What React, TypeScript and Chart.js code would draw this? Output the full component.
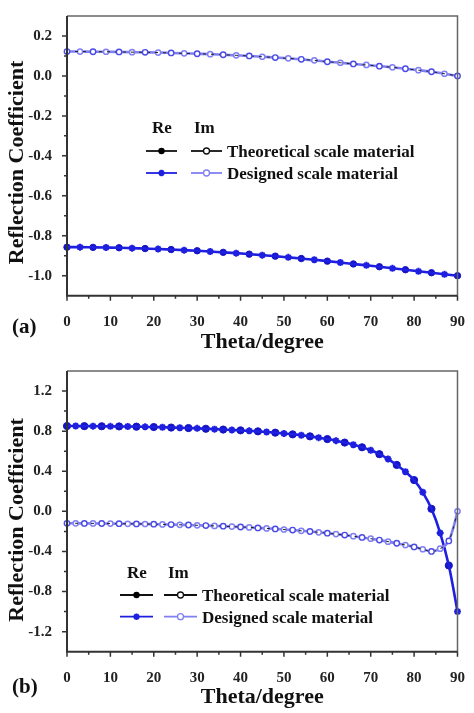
import React, { useEffect, useRef } from "react";
import { Chart, registerables } from "chart.js";

Chart.register(...registerables);

// ---------- data ----------
const anglesA = [0, 3, 6, 9, 12, 15, 18, 21, 24, 27, 30, 33, 36, 39, 42, 45, 48, 51, 54, 57, 60, 63, 66, 69, 72, 75, 78, 81, 84, 87, 90];
const reA = [-0.857, -0.857, -0.858, -0.859, -0.86, -0.862, -0.864, -0.866, -0.869, -0.872, -0.875, -0.879, -0.883, -0.887, -0.892, -0.897, -0.902, -0.908, -0.914, -0.92, -0.927, -0.934, -0.941, -0.948, -0.955, -0.963, -0.97, -0.978, -0.985, -0.993, -1.0];
const imA = [0.122, 0.122, 0.121, 0.121, 0.12, 0.119, 0.118, 0.117, 0.115, 0.113, 0.111, 0.109, 0.106, 0.103, 0.1, 0.096, 0.092, 0.088, 0.083, 0.078, 0.071, 0.066, 0.06, 0.055, 0.049, 0.043, 0.036, 0.029, 0.021, 0.011, 0.0];

const anglesB = [0, 2, 4, 6, 8, 10, 12, 14, 16, 18, 20, 22, 24, 26, 28, 30, 32, 34, 36, 38, 40, 42, 44, 46, 48, 50, 52, 54, 56, 58, 60, 62, 64, 66, 68, 70, 72, 74, 76, 78, 80, 82, 84, 86, 88, 89, 90];
const reB = [0.851, 0.851, 0.85, 0.85, 0.849, 0.848, 0.847, 0.846, 0.845, 0.843, 0.841, 0.839, 0.836, 0.834, 0.831, 0.828, 0.824, 0.82, 0.816, 0.812, 0.808, 0.803, 0.798, 0.792, 0.785, 0.777, 0.768, 0.759, 0.748, 0.735, 0.721, 0.705, 0.686, 0.664, 0.639, 0.609, 0.57, 0.522, 0.463, 0.395, 0.312, 0.19, 0.025, -0.215, -0.54, -0.76, -1.0];
const imB = [-0.119, -0.119, -0.12, -0.12, -0.121, -0.122, -0.123, -0.124, -0.125, -0.126, -0.128, -0.13, -0.132, -0.134, -0.136, -0.139, -0.142, -0.145, -0.148, -0.152, -0.156, -0.16, -0.165, -0.17, -0.175, -0.181, -0.187, -0.194, -0.201, -0.209, -0.218, -0.227, -0.237, -0.248, -0.26, -0.273, -0.287, -0.302, -0.318, -0.336, -0.355, -0.378, -0.4, -0.372, -0.295, -0.17, 0.0];

const xTicks = [0, 10, 20, 30, 40, 50, 60, 70, 80, 90];
const yTicksA = [-1.0, -0.8, -0.6, -0.4, -0.2, 0.0, 0.2];
const yTicksB = [-1.2, -0.8, -0.4, 0.0, 0.4, 0.8, 1.2];
const legendHeaders = ["Re", "Im"];
const legendLabels = ["Theoretical scale material", "Designed scale material"];
const xTitle = "Theta/degree";
const yTitle = "Reflection Coefficient";
const panelTags = ["(a)", "(b)"];

// ---------- style ----------
const SERIF = "'Liberation Serif', 'Times New Roman', serif";
const BLUE = "#1f1fe0";
const LAV = "#8080f2";
const MARK = "#1414c4";
const IMMARK = "#4a4ae6";
const FRAME = "#333";
const W = 474;

type Panel = {
  angles: number[];
  re: number[];
  im: number[];
  yMin: number;
  yMax: number;
  yTicks: number[];
  markStep: number;
  theoMax: number;
  reR: number;
  tag: string;
  height: number;
  plotTop: number;
  plotBottom: number;
  plotLeft: number;
  plotRight: number;
  lg: { headY: number; reX: number; imX: number; sRe: [number, number]; sIm: [number, number]; textX: number; rows: [number, number] };
  yTitleY: number;
  tagY: number;
  titleY: number;
};

const panels: Panel[] = [
  {
    angles: anglesA, re: reA, im: imA, yMin: -1.1, yMax: 0.3, yTicks: yTicksA,
    markStep: 6, theoMax: 90, reR: 3.2, tag: panelTags[0],
    height: 355, plotTop: 1.5, plotBottom: 295.7, plotLeft: 67, plotRight: 464.5,
    lg: { headY: 133, reX: 152, imX: 194, sRe: [146, 177], sIm: [191, 222], textX: 227, rows: [151, 173] },
    yTitleY: 162.5, tagY: 333, titleY: 348,
  },
  {
    angles: anglesB, re: reB, im: imB, yMin: -1.4, yMax: 1.4, yTicks: yTicksB,
    markStep: 4, theoMax: 88, reR: 3.6, tag: panelTags[1],
    height: 358, plotTop: 3.3, plotBottom: 296.7, plotLeft: 67, plotRight: 464.5,
    lg: { headY: 222.7, reX: 127, imX: 168, sRe: [120, 153], sIm: [164, 197], textX: 202, rows: [240, 261.7] },
    yTitleY: 165, tagY: 338, titleY: 348,
  },
];

function drawStar(ctx: CanvasRenderingContext2D, x: number, y: number, r: number, color: string) {
  ctx.save();
  ctx.strokeStyle = color;
  ctx.lineWidth = 2;
  ctx.beginPath();
  for (let i = 0; i < 4; i++) {
    const a = (i * Math.PI) / 4;
    ctx.moveTo(x - Math.cos(a) * r, y - Math.sin(a) * r);
    ctx.lineTo(x + Math.cos(a) * r, y + Math.sin(a) * r);
  }
  ctx.stroke();
  ctx.restore();
}

function makeDecor(p: Panel) {
  return {
    id: "decor",
    afterDraw(chart: any) {
      const ctx: CanvasRenderingContext2D = chart.ctx;
      const xs = chart.scales.x;
      const ys = chart.scales.y;
      const { left, right, top, bottom } = chart.chartArea;
      ctx.save();
      // frame
      ctx.strokeStyle = "#666";
      ctx.lineWidth = 1.5;
      ctx.beginPath();
      ctx.moveTo(left, top);
      ctx.lineTo(right, top);
      ctx.lineTo(right, bottom);
      ctx.stroke();
      ctx.strokeStyle = FRAME;
      ctx.lineWidth = 2;
      ctx.beginPath();
      ctx.moveTo(left, top);
      ctx.lineTo(left, bottom);
      ctx.lineTo(right, bottom);
      ctx.stroke();
      // ticks
      ctx.lineWidth = 1.5;
      ctx.beginPath();
      xTicks.forEach((v, i) => {
        const px = xs.getPixelForValue(v);
        ctx.moveTo(px, bottom);
        ctx.lineTo(px, bottom + 5);
        if (i < xTicks.length - 1) {
          const mx = xs.getPixelForValue(v + (xTicks[i + 1] - v) / 2);
          ctx.moveTo(mx, bottom);
          ctx.lineTo(mx, bottom + 3);
        }
      });
      p.yTicks.forEach((v, i) => {
        const py = ys.getPixelForValue(v);
        ctx.moveTo(left, py);
        ctx.lineTo(left - 5, py);
        if (i < p.yTicks.length - 1) {
          const my = ys.getPixelForValue(v + (p.yTicks[i + 1] - v) / 2);
          ctx.moveTo(left, my);
          ctx.lineTo(left - 3, my);
        }
      });
      ctx.stroke();

      // titles
      ctx.fillStyle = "#111";
      ctx.font = `bold 22px ${SERIF}`;
      ctx.textAlign = "center";
      ctx.textBaseline = "alphabetic";
      ctx.fillText(xTitle, (left + right) / 2, p.titleY);
      ctx.save();
      ctx.translate(23, p.yTitleY);
      ctx.rotate(-Math.PI / 2);
      ctx.fillText(yTitle, 0, 0);
      ctx.restore();
      ctx.textAlign = "left";
      ctx.font = `bold 21px ${SERIF}`;
      ctx.fillText(p.tag, 12, p.tagY);

      // legend
      const lg = p.lg;
      ctx.font = `bold 17px ${SERIF}`;
      ctx.fillText(legendHeaders[0], lg.reX, lg.headY);
      ctx.fillText(legendHeaders[1], lg.imX, lg.headY);
      lg.rows.forEach((ry, r) => {
        const lineCol = r === 0 ? "#111" : BLUE;
        const imCol = r === 0 ? "#111" : LAV;
        ctx.lineWidth = 1.8;
        ctx.strokeStyle = lineCol;
        ctx.beginPath();
        ctx.moveTo(lg.sRe[0], ry);
        ctx.lineTo(lg.sRe[1], ry);
        ctx.stroke();
        const cRe = (lg.sRe[0] + lg.sRe[1]) / 2;
        if (r === 0) {
          ctx.fillStyle = "#000";
          ctx.beginPath();
          ctx.arc(cRe, ry, 3.2, 0, Math.PI * 2);
          ctx.fill();
        } else {
          ctx.fillStyle = BLUE;
          ctx.beginPath();
          ctx.arc(cRe, ry, 2.2, 0, Math.PI * 2);
          ctx.fill();
          drawStar(ctx, cRe, ry, 3.2, BLUE);
        }
        ctx.strokeStyle = imCol;
        ctx.lineWidth = 1.8;
        ctx.beginPath();
        ctx.moveTo(lg.sIm[0], ry);
        ctx.lineTo(lg.sIm[1], ry);
        ctx.stroke();
        const cIm = (lg.sIm[0] + lg.sIm[1]) / 2;
        ctx.fillStyle = "#fff";
        ctx.lineWidth = 1.3;
        ctx.beginPath();
        ctx.arc(cIm, ry, 3, 0, Math.PI * 2);
        ctx.fill();
        ctx.stroke();
        ctx.fillStyle = "#111";
        ctx.fillText(legendLabels[r], lg.textX, ry + 6);
      });
      ctx.restore();
    },
  };
}

function makeConfig(p: Panel): any {
  const pts = (vals: number[]) => p.angles.map((a, i) => ({ x: a, y: vals[i] }));
  const half = p.markStep / 2;
  const isTheo = (a: number) => a % p.markStep === 0 && a <= p.theoMax;
  const isDes = (a: number) => a % p.markStep === half;
  const rad = (f: (a: number) => boolean, r: number) => (c: any) => (f(p.angles[c.dataIndex]) ? r : 0);
  const common = { showLine: true, clip: false, cubicInterpolationMode: "monotone" as const, pointHoverRadius: 0 };
  return {
    type: "scatter",
    data: {
      datasets: [
        {
          ...common, label: "Theoretical Im", data: pts(p.im), borderColor: "#222", borderWidth: 1, borderDash: [3, 5],
          pointRadius: rad(isTheo, 2.7), pointBackgroundColor: "#fff", pointBorderColor: IMMARK, pointBorderWidth: 1.4,
        },
        {
          ...common, label: "Designed Im", data: pts(p.im), borderColor: LAV, borderWidth: 2.6,
          pointRadius: rad(isDes, 2.6), pointBackgroundColor: "#fff", pointBorderColor: LAV, pointBorderWidth: 1.5,
        },
        {
          ...common, label: "Designed Re", data: pts(p.re), borderColor: BLUE, borderWidth: 2.6, pointStyle: "star",
          pointRadius: rad(isDes, 3.5), pointBorderColor: BLUE, pointBackgroundColor: BLUE, pointBorderWidth: 2,
        },
        {
          ...common, label: "Theoretical Re", data: pts(p.re), borderColor: "#000", borderWidth: 1,
          pointRadius: rad(isTheo, p.reR), pointBackgroundColor: MARK, pointBorderColor: MARK, pointBorderWidth: 1,
        },
      ],
    },
    options: {
      animation: false,
      responsive: false,
      events: [],
      layout: { padding: { left: 0, top: p.plotTop, right: W - p.plotRight, bottom: 0 } },
      plugins: { legend: { display: false }, tooltip: { enabled: false }, title: { display: false } },
      scales: {
        x: {
          type: "linear",
          min: 0,
          max: 90,
          grid: { display: false },
          border: { display: false },
          afterBuildTicks: (s: any) => { s.ticks = xTicks.map((v) => ({ value: v })); },
          afterFit: (s: any) => { s.height = p.height - p.plotBottom; },
          ticks: {
            font: { family: SERIF, size: 15, weight: "bold" },
            color: "#222",
            padding: 9,
            maxRotation: 0,
            callback: (v: any) => String(v),
          },
        },
        y: {
          type: "linear",
          min: p.yMin,
          max: p.yMax,
          grid: { display: false },
          border: { display: false },
          afterBuildTicks: (s: any) => { s.ticks = p.yTicks.map((v) => ({ value: v })); },
          afterFit: (s: any) => { s.width = p.plotLeft; },
          ticks: {
            font: { family: SERIF, size: 15, weight: "bold" },
            color: "#222",
            padding: 7,
            callback: (v: any) => Number(v).toFixed(1),
          },
        },
      },
    },
    plugins: [makeDecor(p)],
  };
}

function PanelChart({ p }: { p: Panel }) {
  const ref = useRef<HTMLCanvasElement | null>(null);
  useEffect(() => {
    if (!ref.current) return;
    const chart = new Chart(ref.current, makeConfig(p));
    return () => chart.destroy();
  }, [p]);
  return <canvas ref={ref} width={W} height={p.height} style={{ display: "block", width: W, height: p.height }} />;
}

export default function App() {
  useEffect(() => {
    document.body.style.margin = "0";
  }, []);
  return (
    <div style={{ position: "absolute", left: 0, top: 0, width: W, height: 713, background: "#fff" }}>
      <PanelChart p={panels[0]} />
      <PanelChart p={panels[1]} />
    </div>
  );
}
